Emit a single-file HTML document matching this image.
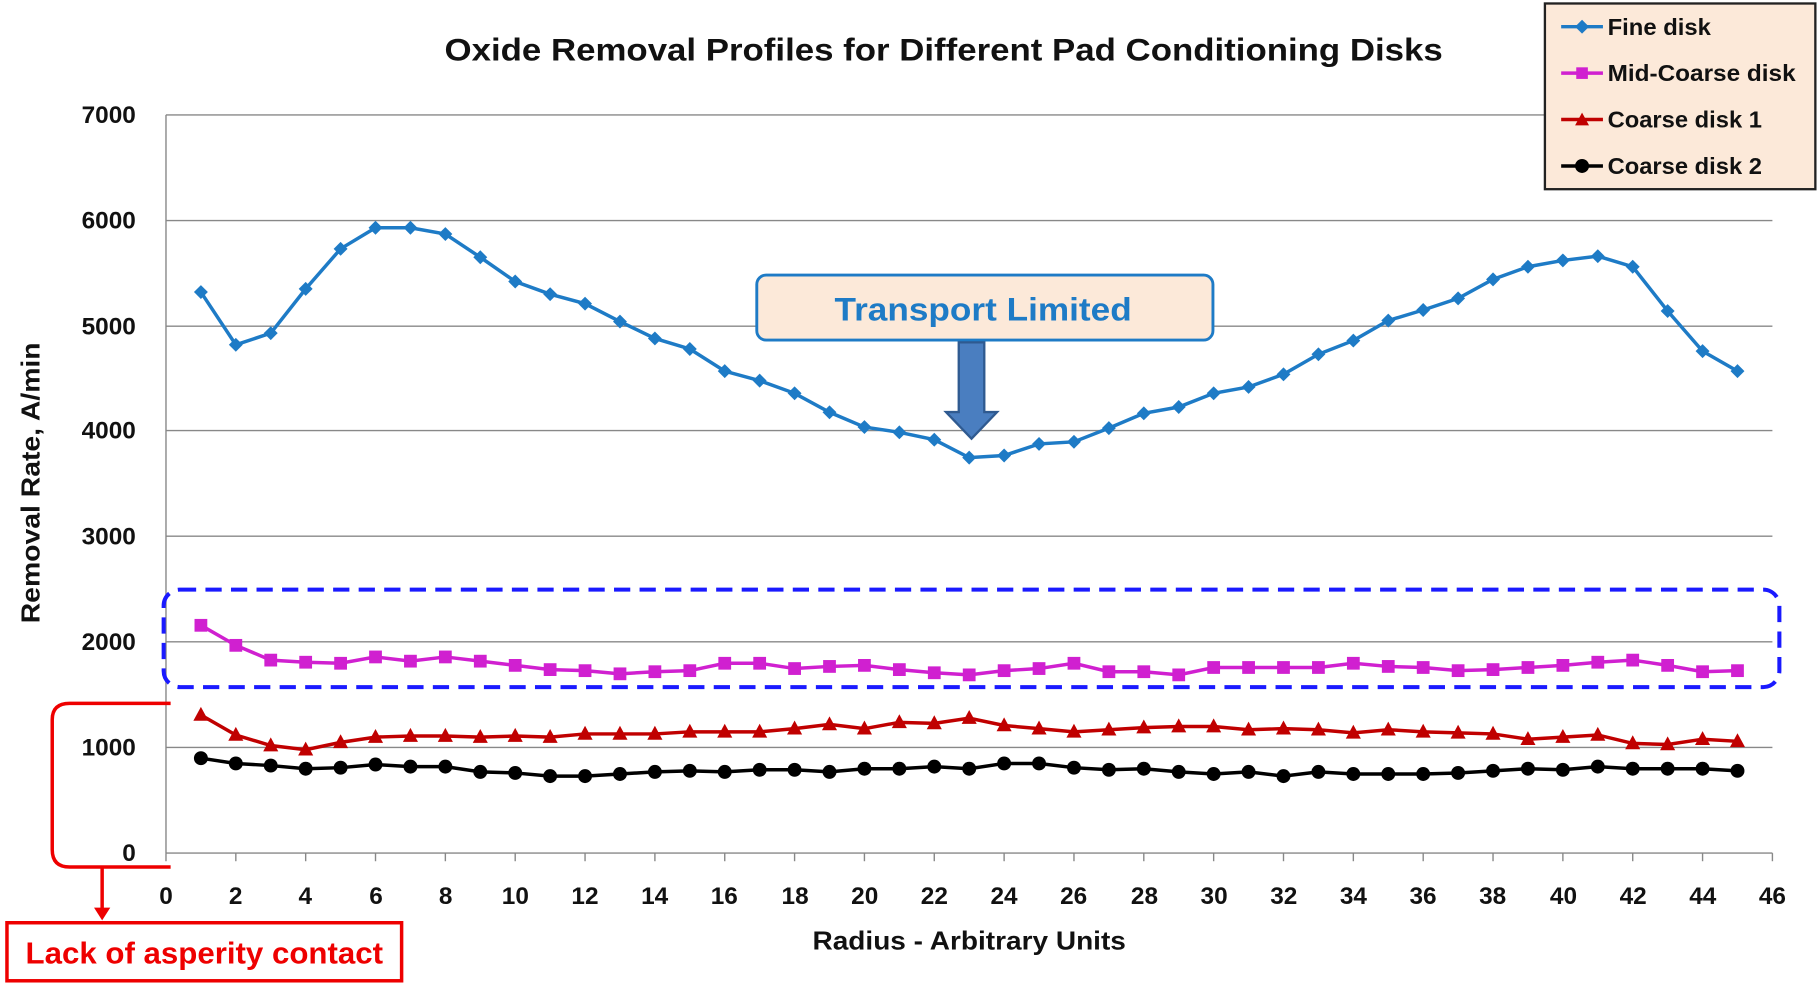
<!DOCTYPE html>
<html><head><meta charset="utf-8"><style>
html,body{margin:0;padding:0;background:#fff;}
svg{display:block;font-family:"Liberation Sans",Arial,sans-serif;}
</style></head><body>
<svg id="s" width="1820" height="986" viewBox="0 0 1568 849.5" preserveAspectRatio="none" xmlns="http://www.w3.org/2000/svg">
<rect width="1568" height="850" fill="#fff"/>
<g stroke="#888" stroke-width="1.2">
<line x1="143" y1="99" x2="1527" y2="99"/>
<line x1="143" y1="190" x2="1527" y2="190"/>
<line x1="143" y1="281" x2="1527" y2="281"/>
<line x1="143" y1="371" x2="1527" y2="371"/>
<line x1="143" y1="462" x2="1527" y2="462"/>
<line x1="143" y1="553" x2="1527" y2="553"/>
<line x1="143" y1="644" x2="1527" y2="644"/>
<line x1="143" y1="735" x2="1527" y2="735"/>
<line x1="143" y1="99" x2="143" y2="735"/>
</g>
<g id="ticks" stroke="#888" stroke-width="1.2"></g>
<text x="383" y="52" font-size="27" font-weight="bold" fill="#111" textLength="860" lengthAdjust="spacingAndGlyphs">Oxide Removal Profiles for Different Pad Conditioning Disks</text>
<g font-size="21" font-weight="bold" text-anchor="end" fill="#111">
<text x="117" y="106">7000</text><text x="117" y="197">6000</text><text x="117" y="288">5000</text><text x="117" y="378">4000</text><text x="117" y="469">3000</text><text x="117" y="560">2000</text><text x="117" y="651">1000</text><text x="117" y="742">0</text>
</g>
<g font-size="21" font-weight="bold" text-anchor="middle" fill="#111">
<text x="143" y="779">0</text><text x="203" y="779">2</text><text x="263" y="779">4</text><text x="324" y="779">6</text><text x="384" y="779">8</text><text x="444" y="779">10</text><text x="504" y="779">12</text><text x="564" y="779">14</text><text x="624" y="779">16</text><text x="685" y="779">18</text><text x="745" y="779">20</text><text x="805" y="779">22</text><text x="865" y="779">24</text><text x="925" y="779">26</text><text x="986" y="779">28</text><text x="1046" y="779">30</text><text x="1106" y="779">32</text><text x="1166" y="779">34</text><text x="1226" y="779">36</text><text x="1286" y="779">38</text><text x="1347" y="779">40</text><text x="1407" y="779">42</text><text x="1467" y="779">44</text><text x="1527" y="779">46</text>
</g>
<text x="700" y="818" font-size="22" font-weight="bold" fill="#111" textLength="270" lengthAdjust="spacingAndGlyphs">Radius - Arbitrary Units</text>
<text transform="translate(34,537) rotate(-90)" font-size="22" font-weight="bold" fill="#111" textLength="242" lengthAdjust="spacingAndGlyphs">Removal Rate, A/min</text>
<g id="series"></g>
<rect x="141" y="508" width="1392" height="84" rx="14" fill="none" stroke="#1a1aff" stroke-width="3.5" stroke-dasharray="14,8"/>
<path d="M147,606 H60 Q45,606 45,620 V732 Q45,747 60,747 H147" fill="none" stroke="#e00" stroke-width="3"/>
<line x1="88" y1="747" x2="88" y2="785" stroke="#e00" stroke-width="3"/>
<path d="M81,782 L95,782 L88,793 Z" fill="#e00"/>
<rect x="6" y="795" width="340" height="50" fill="#fff" stroke="#e00" stroke-width="3"/>
<text x="22" y="830" font-size="26" font-weight="bold" fill="#e00" textLength="308" lengthAdjust="spacingAndGlyphs">Lack of asperity contact</text>
<rect x="652" y="237" width="393" height="56" rx="8" fill="#fce9d9" stroke="#1e7bc6" stroke-width="2.5"/>
<text x="719" y="276" font-size="28" font-weight="bold" fill="#1e7bc6" textLength="256" lengthAdjust="spacingAndGlyphs">Transport Limited</text>
<path d="M826,295 H848 V355 H859 L837,378 L815,355 H826 Z" fill="#4a7ec0" stroke="#2f5a90" stroke-width="2"/>
<rect x="1331" y="3" width="233" height="160" fill="#fce9d9" stroke="#222" stroke-width="2"/>
<g font-size="20" font-weight="bold" fill="#111">
<line x1="1345" y1="23" x2="1381" y2="23" stroke="#1e7bc6" stroke-width="3"/><path d="M1363,17 L1369,23 L1363,29 L1357,23Z" fill="#1e7bc6"/><text x="1385" y="30" textLength="89" lengthAdjust="spacingAndGlyphs">Fine disk</text>
<line x1="1345" y1="63" x2="1381" y2="63" stroke="#d020d0" stroke-width="3"/><rect x="1358" y="58" width="10" height="10" fill="#d020d0"/><text x="1385" y="70" textLength="162" lengthAdjust="spacingAndGlyphs">Mid-Coarse disk</text>
<line x1="1345" y1="103" x2="1381" y2="103" stroke="#c00000" stroke-width="3"/><path d="M1363,97 L1369,108 L1357,108Z" fill="#c00000"/><text x="1385" y="110" textLength="133" lengthAdjust="spacingAndGlyphs">Coarse disk 1</text>
<line x1="1345" y1="143" x2="1381" y2="143" stroke="#000" stroke-width="3"/><circle cx="1363" cy="143" r="6" fill="#000"/><text x="1385" y="150" textLength="133" lengthAdjust="spacingAndGlyphs">Coarse disk 2</text>
</g>
</svg>
<script>
var NS="http://www.w3.org/2000/svg";
function X(v){return 143+v*1384/46;}function Y(v){return 735-v*0.09086;}
var t=document.getElementById('ticks');
for(var i=0;i<=46;i+=2){var l=document.createElementNS(NS,'line');l.setAttribute('x1',X(i));l.setAttribute('x2',X(i));l.setAttribute('y1',735);l.setAttribute('y2',742);t.appendChild(l);}
var D=[
["#1e7bc6","d",[5320,4820,4930,5350,5730,5930,5930,5870,5650,5420,5300,5210,5040,4880,4780,4570,4480,4360,4180,4040,3990,3920,3750,3770,3880,3900,4030,4170,4230,4360,4420,4540,4730,4860,5050,5150,5260,5440,5560,5620,5660,5560,5140,4760,4570]],
["#d020d0","s",[2160,1970,1830,1810,1800,1860,1820,1860,1820,1780,1740,1730,1700,1720,1730,1800,1800,1750,1770,1780,1740,1710,1690,1730,1750,1800,1720,1720,1690,1760,1760,1760,1760,1800,1770,1760,1730,1740,1760,1780,1810,1830,1780,1720,1730]],
["#c00000","t",[1310,1120,1020,980,1050,1100,1110,1110,1100,1110,1100,1130,1130,1130,1150,1150,1150,1180,1220,1180,1240,1230,1280,1210,1180,1150,1170,1190,1200,1200,1170,1180,1170,1140,1170,1150,1140,1130,1080,1100,1120,1040,1030,1080,1060]],
["#000","c",[900,850,830,800,810,840,820,820,770,760,730,730,750,770,780,770,790,790,770,800,800,820,800,850,850,810,790,800,770,750,770,730,770,750,750,750,760,780,800,790,820,800,800,800,780]]];
var g=document.getElementById('series');
D.forEach(function(s){var p="";s[2].forEach(function(v,i){p+=(i?"L":"M")+X(i+1)+","+Y(v);});
var pl=document.createElementNS(NS,'path');pl.setAttribute('d',p);pl.setAttribute('fill','none');pl.setAttribute('stroke',s[0]);pl.setAttribute('stroke-width',3);g.appendChild(pl);
s[2].forEach(function(v,i){var x=X(i+1),y=Y(v),m;
if(s[1]=="d"){m=document.createElementNS(NS,'path');m.setAttribute('d',"M"+x+","+(y-6)+"L"+(x+6)+","+y+"L"+x+","+(y+6)+"L"+(x-6)+","+y+"Z");}
else if(s[1]=="s"){m=document.createElementNS(NS,'rect');m.setAttribute('x',x-5.5);m.setAttribute('y',y-5.5);m.setAttribute('width',11);m.setAttribute('height',11);}
else if(s[1]=="t"){m=document.createElementNS(NS,'path');m.setAttribute('d',"M"+x+","+(y-7)+"L"+(x+6.5)+","+(y+5)+"L"+(x-6.5)+","+(y+5)+"Z");}
else{m=document.createElementNS(NS,'circle');m.setAttribute('cx',x);m.setAttribute('cy',y);m.setAttribute('r',6);}
m.setAttribute('fill',s[0]);g.appendChild(m);});});
</script>
</body></html>
